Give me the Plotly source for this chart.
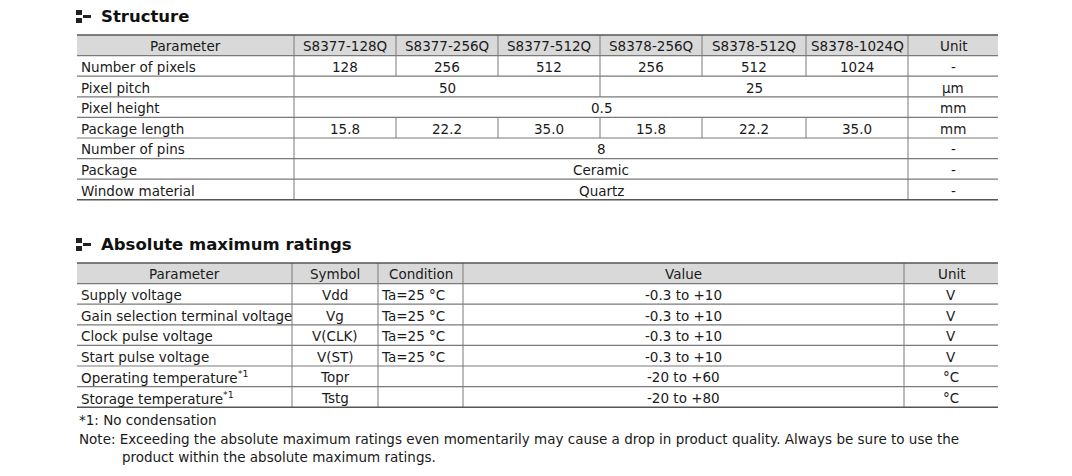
import plotly.graph_objects as go

# ---- data ----
t1_title = "Structure"
t1_header = ["Parameter", "S8377-128Q", "S8377-256Q", "S8377-512Q", "S8378-256Q", "S8378-512Q", "S8378-1024Q", "Unit"]
# rows: list of (text, span)
t1_rows = [
    [("Number of pixels", 1), ("128", 1), ("256", 1), ("512", 1), ("256", 1), ("512", 1), ("1024", 1), ("-", 1)],
    [("Pixel pitch", 1), ("50", 3), ("25", 3), ("µm", 1)],
    [("Pixel height", 1), ("0.5", 6), ("mm", 1)],
    [("Package length", 1), ("15.8", 1), ("22.2", 1), ("35.0", 1), ("15.8", 1), ("22.2", 1), ("35.0", 1), ("mm", 1)],
    [("Number of pins", 1), ("8", 6), ("-", 1)],
    [("Package", 1), ("Ceramic", 6), ("-", 1)],
    [("Window material", 1), ("Quartz", 6), ("-", 1)],
]
t2_title = "Absolute maximum ratings"
t2_header = ["Parameter", "Symbol", "Condition", "Value", "Unit"]
t2_rows = [
    [("Supply voltage", 1), ("Vdd", 1), ("Ta=25 °C", 1), ("-0.3 to +10", 1), ("V", 1)],
    [("Gain selection terminal voltage", 1), ("Vg", 1), ("Ta=25 °C", 1), ("-0.3 to +10", 1), ("V", 1)],
    [("Clock pulse voltage", 1), ("V(CLK)", 1), ("Ta=25 °C", 1), ("-0.3 to +10", 1), ("V", 1)],
    [("Start pulse voltage", 1), ("V(ST)", 1), ("Ta=25 °C", 1), ("-0.3 to +10", 1), ("V", 1)],
    [("Operating temperature<sup>*1</sup>", 1), ("Topr", 1), ("", 1), ("-20 to +60", 1), ("°C", 1)],
    [("Storage temperature<sup>*1</sup>", 1), ("Tstg", 1), ("", 1), ("-20 to +80", 1), ("°C", 1)],
]
footnotes = [
    "*1: No condensation",
    "Note: Exceeding the absolute maximum ratings even momentarily may cause a drop in product quality. Always be sure to use the",
    "          product within the absolute maximum ratings.",
]

# ---- layout geometry ----
t1_cols = [77, 294, 396, 498, 600, 702, 806, 908, 998]
t1_top, t1_rh = 35, 20.6
t2_cols = [77, 292, 378, 463, 904, 998]
t2_top, t2_rh = 263, 20.6
FONT = "DejaVu Sans"
FS = 13.5
LC = "#7a7a7a"

shapes, ann = [], []

def text(x, y, s, anchor="center", size=FS, color="#1a1a1a"):
    ann.append(dict(x=x, y=y, text=s, showarrow=False, xanchor=anchor, yanchor="middle",
                    font=dict(family=FONT, size=size, color=color)))

def line(x0, y0, x1, y1, w=1.0, c=LC):
    shapes.append(dict(type="line", x0=x0, y0=y0, x1=x1, y1=y1, line=dict(color=c, width=w)))

def title(y, s):
    shapes.append(dict(type="rect", x0=76, x1=82, y0=y - 6, y1=y - 1, fillcolor="#222", line_width=0))
    shapes.append(dict(type="rect", x0=76, x1=82, y0=y + 2, y1=y + 7, fillcolor="#222", line_width=0))
    shapes.append(dict(type="rect", x0=83, x1=91, y0=y - 1, y1=y + 2, fillcolor="#222", line_width=0))
    text(99, y, "<b>" + s + "</b>", anchor="left", size=16.5, color="#111")

def table(cols, top, rh, header, rows):
    n = len(rows) + 1
    bottom = top + rh * n
    shapes.append(dict(type="rect", x0=cols[0], x1=cols[-1], y0=top, y1=top + rh,
                       fillcolor="#d9d9d9", line_width=0, layer="below"))
    for i, h in enumerate(header):
        text((cols[i] + cols[i + 1]) / 2, top + rh / 2 + 1, h)
        if 0 < i:
            line(cols[i], top, cols[i], top + rh)
    for r, row in enumerate(rows):
        y0 = top + rh * (r + 1)
        ci = 0
        for j, (s, span) in enumerate(row):
            xa, xb = cols[ci], cols[ci + span]
            if ci > 0:
                line(xa, y0, xa, y0 + rh)
            if j == 0:
                text(xa + 2, y0 + rh / 2 + 1, s, anchor="left")
            elif s.startswith("Ta="):
                text(xa + 1, y0 + rh / 2 + 1, s, anchor="left")
            else:
                text((xa + xb) / 2, y0 + rh / 2 + 1, s)
            ci += span
    for k in range(1, n):
        line(cols[0], top + rh * k, cols[-1], top + rh * k, w=1.2)
    line(cols[0], top, cols[-1], top, w=1.6, c="#555")
    line(cols[0], bottom, cols[-1], bottom, w=1.6, c="#555")

title(16, t1_title)
table(t1_cols, t1_top, t1_rh, t1_header, t1_rows)
title(244, t2_title)
table(t2_cols, t2_top, t2_rh, t2_header, t2_rows)
for i, s in enumerate(footnotes):
    text(77, 420 + i * 18.5, s.replace("  ", "&nbsp;&nbsp;"), anchor="left")

# page body has an 8px margin: the figure starts at (8, 8) in the window
fig = go.Figure()
fig.update_layout(
    width=1056, height=460, margin=dict(l=0, r=0, t=0, b=0),
    paper_bgcolor="white", plot_bgcolor="white",
    xaxis=dict(range=[8, 1064], visible=False, fixedrange=True),
    yaxis=dict(range=[468, 8], visible=False, fixedrange=True),
    shapes=shapes, annotations=ann, showlegend=False,
)
fig.write_html("out.html")
